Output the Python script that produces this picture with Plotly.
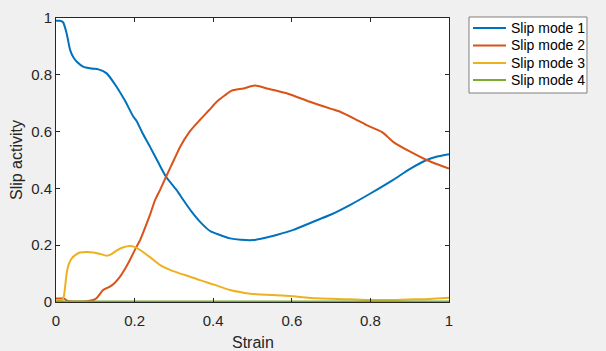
import plotly.graph_objects as go

# Slip mode 1
x1 = [0, 0.01, 0.018, 0.027, 0.036, 0.045, 0.053, 0.069, 0.09, 0.108, 0.129, 0.154, 0.175, 0.197,
      0.205, 0.22, 0.239, 0.26, 0.28, 0.307, 0.324, 0.345, 0.366, 0.392, 0.417, 0.443, 0.47, 0.502,
      0.53, 0.561, 0.604, 0.65, 0.7, 0.75, 0.8, 0.858, 0.9, 0.943, 0.97, 1.0]
y1 = [0.99, 0.99, 0.985, 0.946, 0.887, 0.86, 0.846, 0.829, 0.822, 0.819, 0.805, 0.758, 0.71, 0.652,
      0.637, 0.595, 0.547, 0.492, 0.441, 0.394, 0.359, 0.318, 0.283, 0.25, 0.236, 0.224, 0.219, 0.218,
      0.225, 0.236, 0.254, 0.28, 0.308, 0.343, 0.382, 0.43, 0.468, 0.5, 0.512, 0.52]

# Slip mode 2
x2 = [0, 0.02, 0.03, 0.05, 0.08, 0.095, 0.103, 0.12, 0.137, 0.15, 0.163, 0.175, 0.188, 0.205, 0.214,
      0.222, 0.24, 0.252, 0.265, 0.28, 0.3, 0.316, 0.34, 0.366, 0.39, 0.409, 0.43, 0.447, 0.477, 0.506,
      0.536, 0.587, 0.646, 0.7, 0.723, 0.76, 0.79, 0.83, 0.858, 0.9, 0.943, 0.97, 1.0]
y2 = [0.012, 0.012, 0.004, 0.002, 0.003, 0.007, 0.013, 0.042, 0.054, 0.068, 0.089, 0.115, 0.148, 0.195,
      0.218, 0.245, 0.31, 0.359, 0.395, 0.441, 0.5, 0.547, 0.6, 0.641, 0.676, 0.705, 0.728, 0.744, 0.752,
      0.762, 0.752, 0.735, 0.705, 0.68, 0.67, 0.645, 0.623, 0.598, 0.564, 0.53, 0.5, 0.485, 0.47]

# Slip mode 3
x3 = [0, 0.015, 0.02, 0.027, 0.033, 0.04, 0.05, 0.061, 0.08, 0.095, 0.11, 0.129, 0.14, 0.155, 0.17,
      0.188, 0.2, 0.214, 0.24, 0.265, 0.29, 0.316, 0.34, 0.366, 0.4, 0.443, 0.48, 0.51, 0.55, 0.595,
      0.663, 0.72, 0.79, 0.85, 0.892, 0.95, 1.0]
y3 = [0.005, 0.005, 0.02, 0.1, 0.135, 0.154, 0.166, 0.174, 0.176, 0.174, 0.17, 0.163, 0.168, 0.182, 0.192,
      0.197, 0.194, 0.183, 0.157, 0.13, 0.113, 0.1, 0.09, 0.077, 0.062, 0.042, 0.032, 0.027, 0.025, 0.021,
      0.013, 0.011, 0.007, 0.007, 0.009, 0.011, 0.015]

# Slip mode 4
x4 = [0, 0.25, 0.5, 0.75, 1.0]
y4 = [0.002, 0.002, 0.002, 0.002, 0.002]

names = ["Slip mode 1", "Slip mode 2", "Slip mode 3", "Slip mode 4"]
colors = ["#0072BD", "#D95319", "#EDB120", "#77AC30"]
tick_vals = [0, 0.2, 0.4, 0.6, 0.8, 1]
tick_text = ["0", "0.2", "0.4", "0.6", "0.8", "1"]
x_title = "Strain"
y_title = "Slip activity"

fig = go.Figure()
for xs, ys, n, c in zip([x1, x2, x3, x4], [y1, y2, y3, y4], names, colors):
    fig.add_trace(go.Scatter(x=xs, y=ys, mode="lines", name=n, showlegend=False,
                             line=dict(color=c, width=2, shape="spline", smoothing=0.6)))

axis_common = dict(showline=True, linecolor="#262626", linewidth=1, mirror="ticks",
                   ticks="inside", ticklen=4, tickcolor="#262626", showgrid=False,
                   zeroline=False, tickfont=dict(size=15, color="#262626"), automargin=False)
fig.update_xaxes(range=[0, 1], tickvals=tick_vals, ticktext=tick_text, ticklabelstandoff=5,
                 **axis_common)
fig.update_yaxes(range=[0, 1], tickvals=tick_vals, ticktext=tick_text, **axis_common)

# Axis titles
fig.add_annotation(xref="paper", yref="paper", x=0.5, y=0, yshift=-40, text=x_title,
                   showarrow=False, xanchor="center", yanchor="middle",
                   font=dict(size=16, color="#262626"))
fig.add_annotation(xref="paper", yref="paper", x=0, y=0.5, xshift=-40, text=y_title,
                   showarrow=False, textangle=-90, xanchor="center", yanchor="middle",
                   font=dict(size=16, color="#262626"))

# Legend box drawn in paper coordinates (MATLAB-style compact legend)
leg_x0, leg_x1, leg_top, leg_bot = 1.0509, 1.3511, 1.0035, 0.7359
fig.add_shape(type="rect", xref="paper", yref="paper", x0=leg_x0, x1=leg_x1, y0=leg_bot, y1=leg_top,
              line=dict(color="#7f7f7f", width=1), fillcolor="white", layer="below")
row_y = [0.9648, 0.9032, 0.8415, 0.7817]
for n, c, yy in zip(names, colors, row_y):
    fig.add_shape(type="line", xref="paper", yref="paper", x0=1.0611, x1=1.1450, y0=yy, y1=yy,
                  line=dict(color=c, width=2))
    fig.add_annotation(xref="paper", yref="paper", x=1.1527, y=yy, text=n, showarrow=False,
                       xanchor="left", yanchor="middle", font=dict(size=14, color="#000000"))

fig.update_layout(
    width=606, height=351,
    margin=dict(l=56, r=157, t=18, b=49),
    paper_bgcolor="#f0f0f0", plot_bgcolor="white",
    font=dict(family="Liberation Sans, Arial, sans-serif", color="#262626"),
)

fig.write_html("out.html")
